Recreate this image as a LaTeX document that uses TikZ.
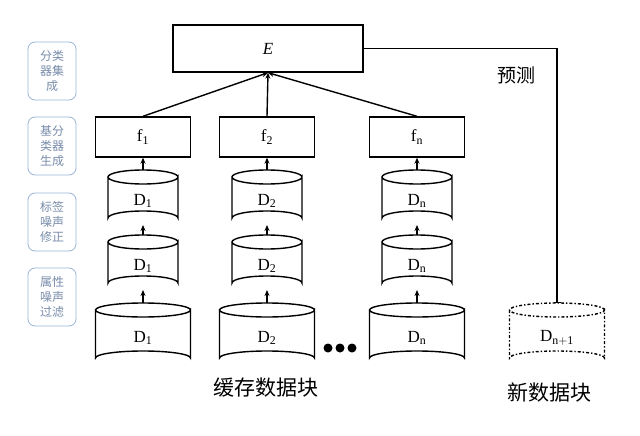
\documentclass[tikz,border=0pt]{standalone}
\usepackage{fontspec}
\setmainfont{Liberation Serif}
\newfontfamily\cjk{Noto Sans CJK SC}
\usetikzlibrary{arrows.meta}
\definecolor{lblue}{RGB}{150,180,215}
\definecolor{ltext}{RGB}{120,140,170}
\newcommand{\mycyl}[6][]{% style, name, cx, ytop, w, h
  \draw[line width=1.4pt,#1] (#3-#5/2,#4+7) -- (#3-#5/2,#4+#6-7) arc[start angle=180,end angle=360,x radius=#5/2,y radius=7] -- (#3+#5/2,#4+7) arc[start angle=0,end angle=360,x radius=#5/2,y radius=7];
  \coordinate (#2t) at (#3,#4);
  \coordinate (#2b) at (#3,#4+#6);
}
\begin{document}
\begin{tikzpicture}[x=1pt,y=-1pt,
  box/.style={draw,line width=1.4pt,minimum width=95pt,minimum height=40pt,inner sep=0},
  side/.style={draw=lblue,line width=0.8pt,rounded corners=7pt,minimum width=48pt,minimum height=58pt,text=ltext,font=\cjk\fontsize{12}{15}\selectfont,align=center,inner sep=0},
  lab/.style={font=\fontsize{17}{18}\selectfont},
  arr/.style={line width=1.4pt,-{Stealth[length=6pt,width=5pt]}}]
\useasboundingbox (0,0) rectangle (640,436);
\node[draw,line width=1.4pt,minimum width=190pt,minimum height=47pt] (E) at (268,48.5) {\fontsize{17}{18}\selectfont\textit{E}};
\node[side] (s1) at (52,71) {分类\\器集\\成};
\node[side] (s2) at (52,146) {基分\\类器\\生成};
\node[side] (s3) at (52,222) {标签\\噪声\\修正};
\node[side] (s4) at (52,297) {属性\\噪声\\过滤};
\foreach \i/\x/\s in {1/143/1,2/267/2,3/417/n}{
  \node[box] (f\i) at (\x,137) {\fontsize{17}{18}\selectfont f$_{\mathrm{\s}}$};
  \mycyl{a\i}{\x}{170}{70}{55}
  \node[lab] (la\i) at (\x,201) {D$_{\mathrm{\s}}$};
  \mycyl{b\i}{\x}{235}{70}{55}
  \node[lab] (lb\i) at (\x,266) {D$_{\mathrm{\s}}$};
  \mycyl{c\i}{\x}{303}{95}{62}
  \node[lab] (lc\i) at (\x,338) {D$_{\mathrm{\s}}$};
  \draw[arr] (c\i t) -- (b\i b);
  \draw[arr] (b\i t) -- (a\i b);
  \draw[arr] (a\i t) -- (f\i.south);
  \draw[arr] (f\i.north) -- (E.south);
}
\mycyl[dash dot]{d}{557}{303}{95}{62}
\node[lab] (ld) at (557,338) {D$_{\mathrm{n+1}}$};
\coordinate (corner) at (557,48.5);
\draw[line width=1.4pt,-{Bar[width=7pt]}] (E.east) -- (corner) -- (dt);
\node[font=\cjk\fontsize{19}{20}\selectfont] (pred) at (516,75) {预测};
\fill (328,348) circle (4.5) (340,348) circle (4.5) (352,348) circle (4.5);
\node[font=\cjk\fontsize{21}{22}\selectfont] (t1) at (266,388) {缓存数据块};
\node[font=\cjk\fontsize{21}{22}\selectfont] (t2) at (549,393) {新数据块};
\end{tikzpicture}
\end{document}
